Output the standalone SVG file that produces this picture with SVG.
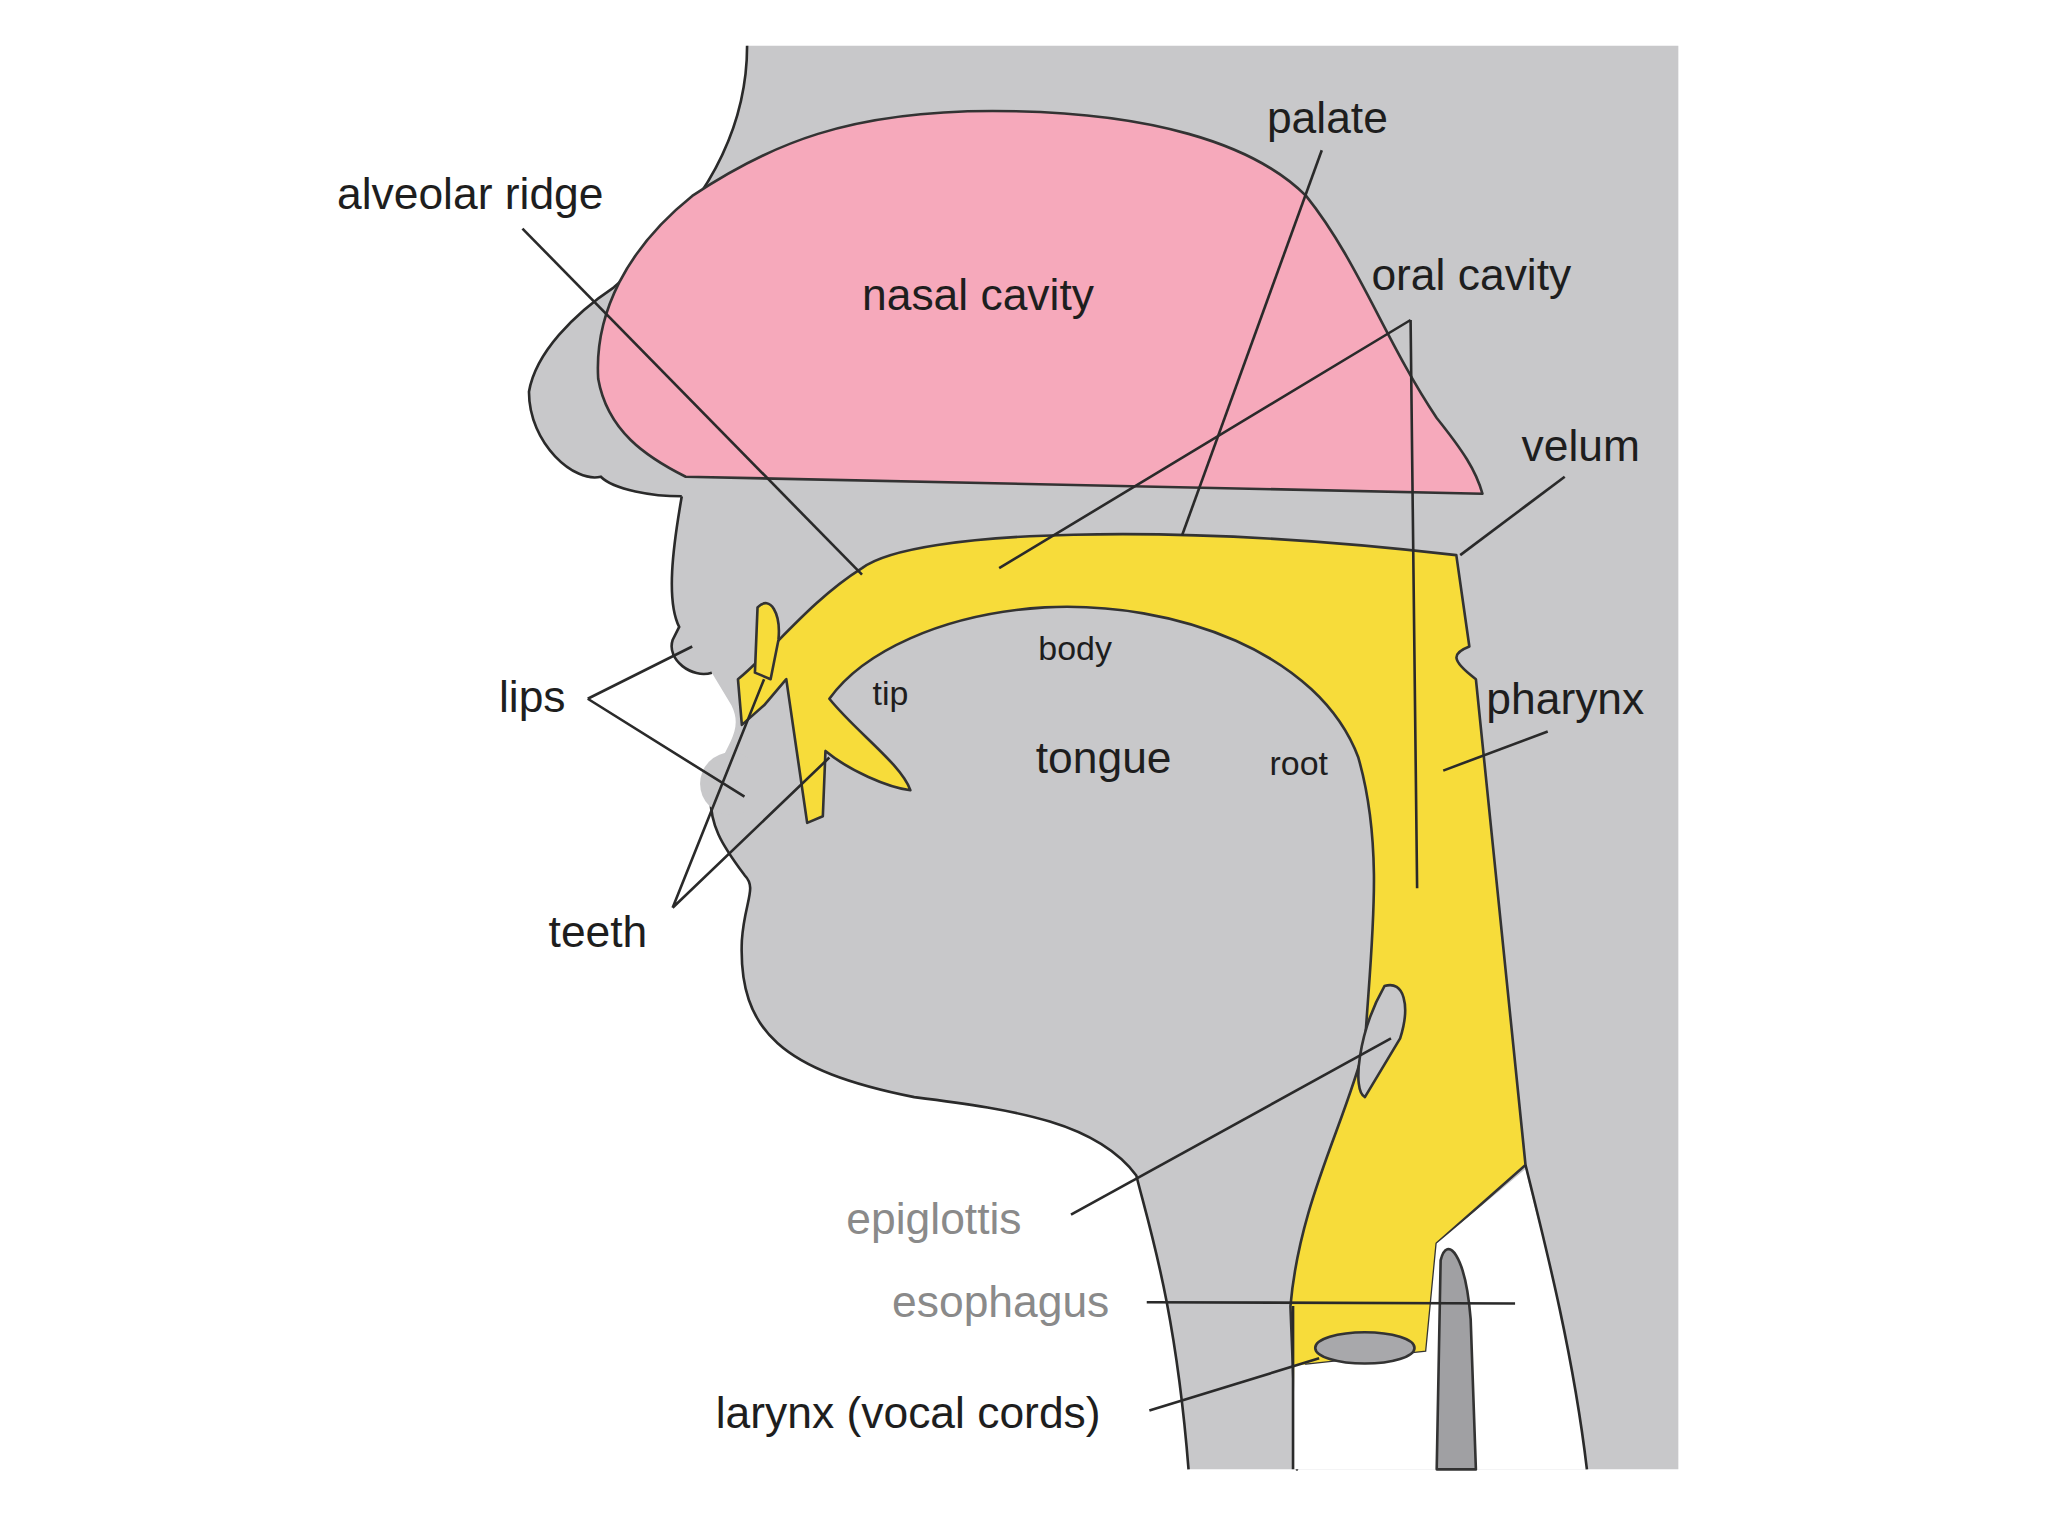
<svg xmlns="http://www.w3.org/2000/svg" width="2048" height="1536" viewBox="0 0 2048 1536">
<style>
.o{stroke:#333;stroke-width:2;stroke-linejoin:round}
.g{fill:#c8c8ca}
.y{fill:#f7dc3a}
.l{stroke:#2a2a2a;stroke-width:2;fill:none}
text{font-family:"Liberation Sans",Arial,sans-serif;fill:#1e1e1e;font-size:34px}
.sm{font-size:26px}
.gr{fill:#8a8a8a}
</style>
<rect width="2048" height="1536" fill="#fff"/>
<g transform="scale(1.3061)">
<g id="head">
<path class="g" d="M572 35 L1285 35 L1285 1125 L910 1125 C900 1000 880 940 870 900 C840 860 780 850 700 840 C600 820 565 790 568 720 C570 690 580 680 570 670 C555 650 540 630 545 600 C555 570 570 560 560 540 L545 515 C530 520 510 505 515 490 L520 480 C510 460 515 420 522 380 C500 380 470 375 460 365 C440 370 405 340 405 300 C410 270 440 240 470 220 C530 170 572 110 572 35 Z"/>
<path class="l" d="M572 35 C572 110 530 170 470 220 C440 240 410 270 405 300 C405 340 440 370 460 365 C470 375 500 380 522 380 M522 380 C515 420 510 460 520 480 L515 490 C510 505 530 520 545 515 M910 1125 C900 1000 880 940 870 900 C840 860 780 850 700 840 C600 820 565 790 568 720 C570 690 580 680 570 670 C555 650 540 630 545 600"/>
</g>
<g id="nasal-cavity">
<path fill="#f6a9bb" class="o" d="M525 365 C495 350 465 330 458 290 C455 240 480 190 530 150 C590 110 650 85 760 85 C880 85 960 110 1000 150 C1040 200 1060 260 1100 320 C1120 345 1130 360 1135 378 C1000 376 800 372 525 365 Z"/>
</g>
<g id="airway">
<path class="y o" d="M660 435 C700 405 900 400 1115 425 L1125 495 C1112 500 1110 505 1130 520 L1168 892 L1100 952 L1092 1035 L1000 1045 L993 1125 L988 1000 C995 920 1030 860 1045 800 C1050 720 1060 650 1040 580 C1010 500 900 460 800 465 C720 470 660 500 635 535 C655 560 690 585 697 605 C680 603 650 590 632 575 L630 625 L618 630 L610 575 L602 520 L585 540 L568 555 L565 520 C590 500 620 460 660 435 Z"/>
<path class="y o" d="M580 465 C590 455 598 470 596 490 L590 520 L578 515 Z"/>
<path class="g o" d="M1060 755 C1075 750 1080 770 1072 795 L1045 840 C1035 835 1040 790 1060 755 Z"/>
<circle class="g" cx="560" cy="600" r="24"/>
<path fill="#fff" d="M1168 895 L1100 952 L1092 1035 L1000 1045 L991 1045 L990 1125 L1215 1125 C1200 1000 1180 950 1168 895 Z"/>
<path class="l" d="M1168 892 C1185 960 1205 1040 1215 1125 M990 1000 L990 1125"/>
<path fill="#a0a0a3" class="o" d="M1100 1125 L1103 965 C1108 945 1122 960 1126 1010 L1130 1125 Z"/>
<ellipse cx="1045" cy="1032" rx="38" ry="12" fill="#a8a8ab" class="o"/>
</g>
<g id="connectors" class="l">
<path d="M400 175 L660 440"/>
<path d="M1012 115 L905 410"/>
<path d="M1080 245 L765 435 M1080 245 L1085 680"/>
<path d="M1198 365 L1118 425"/>
<path d="M1185 560 L1105 590"/>
<path d="M450 535 L530 495 M450 535 L570 610"/>
<path d="M515 695 L585 520 M515 695 L635 580"/>
<path d="M820 930 L1065 795"/>
<path d="M878 997 L1160 998"/>
<path d="M880 1080 L1010 1040"/>
</g>
<g id="labels">
<text x="258" y="160">alveolar ridge</text>
<text x="970" y="102">palate</text>
<text x="1050" y="222">oral cavity</text>
<text x="660" y="237">nasal cavity</text>
<text x="1165" y="353">velum</text>
<text x="1138" y="547">pharynx</text>
<text x="382" y="545">lips</text>
<text x="420" y="725">teeth</text>
<text class="sm" x="668" y="540">tip</text>
<text class="sm" x="795" y="505">body</text>
<text x="793" y="592">tongue</text>
<text class="sm" x="972" y="593">root</text>
<text class="gr" x="648" y="945">epiglottis</text>
<text class="gr" x="683" y="1008">esophagus</text>
<text x="548" y="1093">larynx (vocal cords)</text>
</g>
</g>
</svg>
